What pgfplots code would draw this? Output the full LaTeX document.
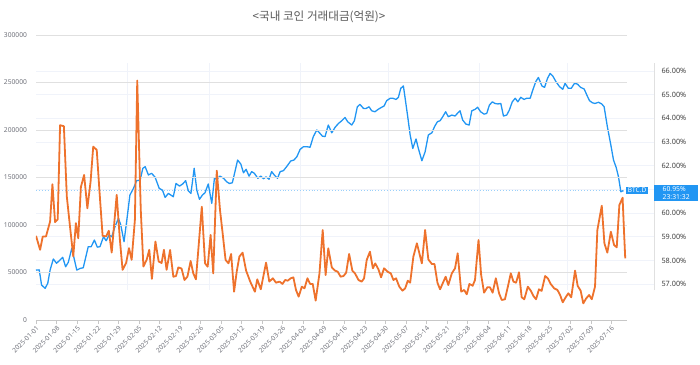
\documentclass[border=0pt]{standalone}
\usepackage{fontspec}
\setmainfont{Noto Sans}
\newfontfamily\krfont{Noto Sans CJK KR}
\usepackage{pgfplots}
\pgfplotsset{compat=1.18}
\definecolor{vol}{RGB}{238,114,44}
\definecolor{dom}{RGB}{33,150,243}
\definecolor{tickc}{RGB}{110,112,121}
\definecolor{gridc}{RGB}{224,224,224}
\definecolor{tvgrid}{RGB}{240,243,250}
\begin{document}
\begin{tikzpicture}
\path[use as bounding box] (0pt,0pt) rectangle (700pt,364pt);
\node[font=\krfont\fontsize{11.6}{13}\selectfont, text=black!65] at (319pt,347pt) {<국내 코인 거래대금(억원)>};

% TradingView overlay: BTC dominance
\begin{axis}[
  at={(36pt,74pt)}, anchor=south west, scale only axis,
  width=618pt, height=227pt,
  xmin=0, xmax=210.6, ymin=56.75, ymax=66.34,
  axis x line*=bottom, axis y line*=right,
  x axis line style={draw=none},
  y axis line style={draw=black!12,-},
  xtick={31,59,90,120,151,181}, xticklabels={},
  xmajorgrids, ymajorgrids, grid style={tvgrid, line width=0.6pt},
  major tick length=0pt,
  ytick={57,58,...,66},
  yticklabel={\pgfmathprintnumber[fixed,fixed zerofill,precision=2]{\tick}\%},
  /pgf/number format/assume math mode=true,
  yticklabel style={font=\fontsize{7.3}{8}\selectfont, text=black!75, anchor=west, xshift=4pt},
  clip=false,
]
\addplot[dom!45, dotted, line width=0.9pt] coordinates {(0,60.95) (200.6,60.95)};
\addplot[dom, line width=1.3pt, line join=round] coordinates {
(0,57.59) (1.1,57.6) (1.9,56.96) (3.1,56.82) (4,57.03) (4.8,57.59) (5.9,58.06) (7,57.88) (8.2,58.02) (9.1,58.13) (10.1,57.73) (11,57.92) (12.2,58.51) (13.9,57.59) (15,57.66) (16.1,57.69) (17,58.16) (17.8,58.58) (18.8,58.58) (19.9,58.86) (20.9,58.56) (21.8,58.58) (23,59.0) (23.9,58.83) (24.9,59.07) (25.8,59.0) (26.9,59.42) (28.1,59.78) (28.9,59.49) (30,58.79) (31.1,59.85) (32,60.76) (33.2,61.04) (34.3,61.37) (35.5,61.39) (36.4,61.89) (37.2,61.96) (38.3,61.61) (39.4,61.68) (40.6,61.51) (42,61.04) (43.1,60.97) (44,60.66) (45.1,60.83)
(46.8,60.69) (47.7,61.25) (48.9,61.14) (50,61.23) (51,61.37) (51.9,60.94) (52.8,60.83) (53.9,61.89) (54.8,60.97) (55.7,60.58) (56.7,60.76) (57.6,60.86) (58.7,61.23) (59.9,60.41) (60.8,61.47) (61.6,61.43) (62.7,61.56) (63.9,61.47) (65,61.32) (65.9,61.25) (66.9,61.28) (67.8,61.75) (68.7,62.24) (69.8,62.07) (70.7,61.70) (71.6,61.85) (72.6,61.56) (73.5,61.75) (74.4,61.68) (75.6,61.47) (76.6,61.56) (77.5,61.45) (78.4,61.53) (79.4,61.43) (80.3,61.75) (81.2,61.61) (82.3,61.47) (83.2,61.75) (84.3,61.79) (85.4,61.96) (86.8,62.2) (87.9,62.24) (88.9,62.38) (90,62.69) (91.1,62.8) (92.5,62.8) (93.4,62.78)
(94.5,63.23) (95.7,63.51) (96.6,63.39) (97.6,63.25) (98.5,63.23) (99.6,63.72) (100.8,63.39) (101.9,63.62) (103.1,63.79) (104.2,63.9) (105.3,64.04) (106.2,63.86) (107.6,63.72) (108.5,63.9) (109.5,64.49) (110.4,64.59) (111.6,64.42) (112.5,64.42) (113.5,64.49) (114.4,64.32) (115.5,64.28) (116.7,64.39) (117.8,64.47) (118.6,64.52) (119.5,64.75) (120.7,64.85) (121.6,64.85) (122.7,64.8) (123.5,64.89) (124.3,65.27) (125.2,65.37) (126.6,64.14) (127.5,63.3) (128.4,62.73) (129.5,63.13) (130.3,62.73) (131.5,62.21) (132.6,62.59) (133.7,63.3) (134.9,63.39) (135.8,63.65) (136.8,63.86) (137.7,63.9) (138.6,64.07) (139.6,64.28) (140.5,64.07) (141.7,64.14) (142.8,64.1) (143.6,64.21)
(144.5,64.32) (145.4,63.93) (146.5,63.76) (147.6,63.72) (148.5,64.32) (149.6,64.38) (150.5,64.47) (151.5,64.28) (152.7,64.18) (153.6,64.21) (154.5,64.56) (155.5,64.7) (156.4,64.63) (157.4,64.61) (158.4,64.63) (159.3,64.1) (160.4,64.14) (161.3,64.35) (162.3,64.7) (163.3,64.85) (164.2,64.7) (165.2,64.89) (166.3,64.8) (167.2,64.85) (168.4,64.85) (169.3,65.2) (170.3,65.55) (171.2,65.73) (172.4,65.37) (173.3,65.31) (174.3,65.69) (175.2,65.9) (176.1,65.79) (177.2,65.55) (178.4,65.34) (179.5,65.23) (180.3,65.48) (181.4,65.27) (182.4,65.27) (183.5,65.48) (184.5,65.45) (185.6,65.31) (186.8,65.24) (187.7,64.99) (188.6,64.75) (189.6,64.66) (190.5,64.63) (191.7,64.68) (192.8,64.61) (193.6,64.49) (194.7,63.65) (195.9,62.87) (196.8,62.24) (197.7,61.93) (198.5,61.53) (199.3,60.9) (200.2,60.95)
};
\node[fill=dom, text=white, font=\bfseries\fontsize{6.5}{6.5}\selectfont, inner xsep=2.2pt, inner ysep=1.4pt, anchor=west] at (axis cs:200.9,60.95) {BTC.D};
\node[fill=dom, text=white, font=\fontsize{6.8}{7.6}\selectfont, align=left, anchor=west, inner xsep=4pt, inner ysep=1.5pt, minimum width=44pt] at (axis cs:210.6,60.95) [yshift=-2.5pt] {60.95\%\\23:31:32};
\end{axis}

% ECharts: trading volume
\begin{axis}[
  at={(36pt,44pt)}, anchor=south west, scale only axis,
  width=591pt, height=285pt,
  xmin=0, xmax=201.4, ymin=0, ymax=300000,
  axis x line*=bottom, axis y line*=left,
  x axis line style={draw=black!22,-},
  y axis line style={draw=none},
  tick align=outside, major tick length=4pt,
  xtick style={draw=black!22},
  ytick style={draw=none},
  xtick={0,7,...,196},
  xticklabels={2025-01-01,2025-01-08,2025-01-15,2025-01-22,2025-01-29,2025-02-05,2025-02-12,2025-02-19,2025-02-26,2025-03-05,2025-03-12,2025-03-19,2025-03-26,2025-04-02,2025-04-09,2025-04-16,2025-04-23,2025-04-30,2025-05-07,2025-05-14,2025-05-21,2025-05-28,2025-06-04,2025-06-11,2025-06-18,2025-06-25,2025-07-02,2025-07-09,2025-07-16},
  xticklabel style={rotate=45, anchor=north east, font=\fontsize{6.6}{7}\selectfont, text=tickc, inner sep=1pt},
  scaled y ticks=false,
  ytick={0,50000,100000,150000,200000,250000,300000},
  yticklabels={0,50000,100000,150000,200000,250000,300000},
  yticklabel style={font=\fontsize{6.7}{7}\selectfont, text=tickc, xshift=-1.5pt},
  ymajorgrids, grid style={gridc, line width=0.7pt},
]
\addplot[vol, line width=1.8pt, line join=round] coordinates {
(0,88600) (1.4,73900) (2.3,87900) (3.4,87900) (4.8,103600) (5.6,142900) (6.5,103000) (7.4,106000) (8.2,205000) (9.5,204000) (10.5,130000) (11.6,98000) (12.7,67000) (13.6,102000) (14.4,86000) (15.3,140000) (16.4,152700) (17.5,117600) (18.6,145700) (19.5,182500) (20.7,179000) (21.6,137000) (22.7,88600) (23.9,88000) (24.8,94000) (25.8,71000) (27.5,131700) (28.6,84000) (29.5,52800) (30.7,60000) (31.7,75600) (32.6,63300) (33.7,105400) (34.5,252000) (35.7,116000) (36.6,56300) (37.7,63300) (38.6,73900) (39.5,43300) (40.7,82600) (41.8,61600) (42.8,60000) (43.6,73900) (44.5,52800)
(45.7,73700) (46.8,45600) (47.7,46200) (48.5,55300) (49.6,54200) (50.6,42100) (51.6,45600) (52.7,62100) (53.6,49100) (54.5,42800) (56.5,119300) (57.6,59700) (58.5,56100) (59.5,89500) (60.4,49100) (61.6,157200) (62.7,115900) (63.6,91300) (64.6,63200) (65.6,59700) (66.5,69500) (67.5,29800) (68.4,50900) (69.3,66700) (70.4,70900) (71.6,52000) (73,40400) (74.6,29800) (75.4,42800) (76.6,32300) (78.4,60400) (79.5,40400) (80.7,43900) (81.8,39300) (83,40400) (84,38000) (84.9,42100) (85.8,41400) (86.8,43900) (87.7,44900) (88.6,31600) (89.5,24600) (90.6,35100) (91.5,33300) (92.5,43900) (93.4,38000) (94.3,38000) (95.3,20400)
(96.6,49100) (97.7,94700) (98.7,47400) (99.6,75500) (100.8,55400) (101.9,52000) (102.8,50900) (103.8,45600) (104.8,46300) (105.7,49800) (106.7,69500) (107.8,52000) (108.7,49100) (109.9,42100) (111,40400) (111.8,43900) (112.7,63200) (113.8,71900) (114.8,54400) (115.6,59600) (116.7,53300) (117.6,44900) (118.6,54400) (119.8,50900) (120.9,49100) (121.8,42100) (122.7,43900) (123.8,35100) (124.9,30900) (125.8,33300) (126.7,41400) (127.5,39300) (128.6,66700) (129.8,80700) (131.5,59600) (132.6,94700) (133.7,63800) (134.9,58900) (135.8,58900) (136.8,39300) (137.7,32300) (138.6,38600) (139.6,45600) (140.5,36800) (141.7,49100) (142.8,54400) (143.7,70200) (144.9,29800) (145.9,31600) (146.8,27000)
(147.7,37900) (148.8,36100) (149.6,42100) (150.8,84200) (151.7,47400) (152.7,28800) (153.8,34400) (154.7,34400) (155.6,28800) (156.7,43900) (157.8,28100) (158.7,21100) (159.8,21800) (160.8,35100) (161.8,49100) (162.7,40400) (163.6,39300) (164.6,50200) (165.5,23900) (166.4,21800) (167.6,35100) (168.6,30900) (169.5,25300) (170.4,21800) (171.4,32300) (172.3,30600) (173.5,46300) (174.4,43900) (175.4,37900) (176.6,33300) (177.7,31600) (178.6,26300) (179.5,18600) (180.5,23900) (181.4,28100) (182.4,23900) (183.7,52000) (184.6,35800) (185.6,30900) (186.5,17500) (187.5,22800) (188.5,26300) (189.4,21800) (190.5,35100) (191.3,94700) (192.8,120300) (193.7,80700) (194.7,70900) (195.9,92900) (197,78900) (197.9,76500) (198.8,121000) (199.9,128700) (200.4,91800) (200.8,64800)
};
\end{axis}
\end{tikzpicture}
\end{document}
